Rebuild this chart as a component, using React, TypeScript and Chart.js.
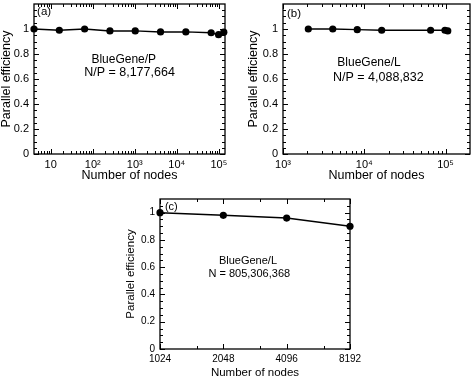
import React, { useEffect, useRef } from "react";
import { Chart, registerables } from "chart.js";

Chart.register(...registerables);
Chart.defaults.color = "#000";

const FONT = "'Liberation Sans', Arial, Helvetica, sans-serif";

// ---- Data ----
const nodesA = [4, 16, 64, 256, 1024, 4096, 16384, 65536, 98304, 131072];
const effA = [1.0, 0.99, 1.0, 0.985, 0.985, 0.977, 0.977, 0.97, 0.955, 0.975];

const nodesB = [2048, 4096, 8192, 16384, 65536, 98304, 106496];
const effB = [1.0, 1.0, 0.995, 0.99, 0.99, 0.99, 0.985];

const nodesC = [1024, 2048, 4096, 8192];
const effC = [1.0, 0.98, 0.96, 0.9];

const yMajorTicks = [0, 0.2, 0.4, 0.6, 0.8, 1];
const xTicksA = [10, 100, 1000, 10000, 100000];
const xLabelsA = ["10", "10²", "10³", "10⁴", "10⁵"];
const xTicksB = [1000, 10000, 100000];
const xLabelsB = ["10³", "10⁴", "10⁵"];
const xTicksC = [1024, 2048, 4096, 8192];
const xLabelsC = ["1024", "2048", "4096", "8192"];
const xMinorC = [1536, 3072, 6144];

function logMinor(min: number, max: number): number[] {
  const out: number[] = [];
  for (let d = Math.floor(Math.log10(min)); d <= Math.ceil(Math.log10(max)); d++) {
    for (let k = 2; k <= 9; k++) {
      const v = k * Math.pow(10, d);
      if (v > min && v < max) out.push(v);
    }
  }
  return out;
}

function yMinor(max: number): number[] {
  const out: number[] = [];
  for (let i = 1; i * 0.05 < max - 1e-9; i++) {
    const v = Math.round(i * 5) / 100;
    if (Math.abs(v * 5 - Math.round(v * 5)) > 1e-9) out.push(v);
  }
  return out;
}

type Note = { text: string; fx: number; fy: number; size: number };

const framePlugin = {
  id: "frame",
  beforeDatasetsDraw(chart: any, _args: any, opts: any) {
    const { ctx, chartArea: a, scales } = chart;
    const x = scales.x;
    const y = scales.y;
    ctx.save();
    ctx.strokeStyle = "#000";
    ctx.lineWidth = 1.3;
    ctx.strokeRect(a.left, a.top, a.right - a.left, a.bottom - a.top);
    ctx.lineWidth = 1;
    ctx.beginPath();
    const tx = (v: number, len: number) => {
      const p = Math.round(x.getPixelForValue(v)) + 0.5;
      ctx.moveTo(p, a.bottom);
      ctx.lineTo(p, a.bottom - len);
      ctx.moveTo(p, a.top);
      ctx.lineTo(p, a.top + len);
    };
    const ty = (v: number, len: number) => {
      const p = Math.round(y.getPixelForValue(v)) + 0.5;
      ctx.moveTo(a.left, p);
      ctx.lineTo(a.left + len, p);
      ctx.moveTo(a.right, p);
      ctx.lineTo(a.right - len, p);
    };
    opts.xMajor.forEach((v: number) => tx(v, 5));
    opts.xMinor.forEach((v: number) => tx(v, 3));
    opts.yMajor.forEach((v: number) => ty(v, 5));
    opts.yMinor.forEach((v: number) => ty(v, 3));
    ctx.stroke();
    ctx.restore();
  },
  afterDraw(chart: any, _args: any, opts: any) {
    const { ctx, chartArea: a } = chart;
    const w = a.right - a.left;
    const h = a.bottom - a.top;
    ctx.save();
    ctx.fillStyle = "#000";
    ctx.textBaseline = "alphabetic";
    ctx.font = `${opts.labelSize}px ${FONT}`;
    ctx.textAlign = "left";
    ctx.fillText(opts.label, a.left + opts.labelPos[0] * w, a.top + opts.labelPos[1] * h);
    ctx.textAlign = "center";
    opts.notes.forEach((n: Note) => {
      ctx.font = `${n.size}px ${FONT}`;
      ctx.fillText(n.text, a.left + n.fx * w, a.top + n.fy * h);
    });
    ctx.restore();
  },
};

type Spec = {
  left: number;
  top: number;
  width: number;
  height: number;
  pad: { left: number; top: number; right: number; bottom: number };
  yAxisWidth: number;
  xAxisHeight: number;
  nodes: number[];
  eff: number[];
  xMin: number;
  xMax: number;
  yMax: number;
  xTicks: number[];
  xLabels: string[];
  xMinor: number[];
  tickSize: number;
  titleSize: number;
  titlePadBottom: number;
  label: string;
  labelPos: [number, number];
  labelSize: number;
  notes: Note[];
};

function Panel({ s }: { s: Spec }) {
  const ref = useRef<HTMLCanvasElement>(null);
  useEffect(() => {
    if (!ref.current) return;
    const chart = new Chart(ref.current, {
      type: "line",
      data: {
        datasets: [
          {
            data: s.nodes.map((n, i) => ({ x: n, y: s.eff[i] })),
            borderColor: "#000",
            borderWidth: 1.5,
            backgroundColor: "#000",
            pointRadius: 3.6,
            pointBackgroundColor: "#000",
            pointBorderWidth: 0,
            tension: 0,
            clip: false as any,
          },
        ],
      },
      options: {
        animation: false,
        responsive: false,
        maintainAspectRatio: false,
        devicePixelRatio: 1,
        layout: { padding: s.pad },
        plugins: {
          legend: { display: false },
          tooltip: { enabled: false },
          frame: {
            xMajor: s.xTicks,
            xMinor: s.xMinor,
            yMajor: yMajorTicks,
            yMinor: yMinor(s.yMax),
            label: s.label,
            labelPos: s.labelPos,
            labelSize: s.labelSize,
            notes: s.notes,
          },
        } as any,
        scales: {
          x: {
            type: "logarithmic",
            min: s.xMin,
            max: s.xMax,
            grid: { display: false, drawTicks: false },
            border: { display: false },
            afterBuildTicks: (sc: any) => {
              sc.ticks = s.xTicks.map((v) => ({ value: v }));
            },
            afterFit: (sc: any) => {
              sc.height = s.xAxisHeight;
              sc.paddingLeft = 0;
              sc.paddingRight = 0;
              sc.paddingTop = 0;
              sc.paddingBottom = 0;
            },
            ticks: {
              autoSkip: false,
              maxRotation: 0,
              padding: 4,
              color: "#000",
              font: { family: FONT, size: s.tickSize },
              callback: (_v: any, i: number) => s.xLabels[i],
            },
            title: {
              display: true,
              text: "Number of nodes",
              color: "#000",
              font: { family: FONT, size: s.titleSize, lineHeight: 1 },
              padding: { top: 0, bottom: s.titlePadBottom },
            },
          },
          y: {
            type: "linear",
            min: 0,
            max: s.yMax,
            grid: { display: false, drawTicks: false },
            border: { display: false },
            afterBuildTicks: (sc: any) => {
              sc.ticks = yMajorTicks.map((v) => ({ value: v }));
            },
            afterFit: (sc: any) => {
              sc.width = s.yAxisWidth;
              sc.paddingLeft = 0;
              sc.paddingRight = 0;
              sc.paddingTop = 0;
              sc.paddingBottom = 0;
            },
            ticks: {
              padding: 5,
              color: "#000",
              font: { family: FONT, size: s.tickSize },
              callback: (v: any) => String(v),
            },
            title: {
              display: true,
              text: "Parallel efficiency",
              color: "#000",
              font: { family: FONT, size: s.titleSize, lineHeight: 1 },
              padding: { top: 0, bottom: 0 },
            },
          },
        },
      },
      plugins: [framePlugin as any],
    });
    return () => chart.destroy();
  }, [s]);
  return (
    <canvas
      ref={ref}
      width={s.width}
      height={s.height}
      style={{ position: "absolute", left: s.left, top: s.top, width: s.width, height: s.height }}
    />
  );
}

const specA: Spec = {
  left: 0,
  top: 0,
  width: 237,
  height: 192,
  pad: { left: 0, top: 3, right: 12, bottom: 0 },
  yAxisWidth: 34,
  xAxisHeight: 38,
  nodes: nodesA,
  eff: effA,
  xMin: 4,
  xMax: 140000,
  yMax: 1.2,
  xTicks: xTicksA,
  xLabels: xLabelsA,
  xMinor: logMinor(4, 140000),
  tickSize: 11,
  titleSize: 12.5,
  titlePadBottom: 10,
  label: "(a)",
  labelPos: [0.016, 0.075],
  labelSize: 11.5,
  notes: [
    { text: "BlueGene/P", fx: 0.47, fy: 0.39, size: 12 },
    { text: "N/P = 8,177,664", fx: 0.5, fy: 0.477, size: 12.5 },
  ],
};

const specB: Spec = {
  left: 237,
  top: 0,
  width: 237,
  height: 192,
  pad: { left: 10, top: 3, right: 2, bottom: 0 },
  yAxisWidth: 36,
  xAxisHeight: 38,
  nodes: nodesB,
  eff: effB,
  xMin: 1000,
  xMax: 200000,
  yMax: 1.2,
  xTicks: xTicksB,
  xLabels: xLabelsB,
  xMinor: logMinor(1000, 200000),
  tickSize: 11,
  titleSize: 12.5,
  titlePadBottom: 10,
  label: "(b)",
  labelPos: [0.021, 0.085],
  labelSize: 11.5,
  notes: [
    { text: "BlueGene/L", fx: 0.46, fy: 0.41, size: 12 },
    { text: "N/P = 4,088,832", fx: 0.51, fy: 0.51, size: 12.5 },
  ],
};

const specC: Spec = {
  left: 100,
  top: 180,
  width: 270,
  height: 200,
  pad: { left: 25, top: 19, right: 20, bottom: 0 },
  yAxisWidth: 35,
  xAxisHeight: 31,
  nodes: nodesC,
  eff: effC,
  xMin: 1024,
  xMax: 8192,
  yMax: 1.1,
  xTicks: xTicksC,
  xLabels: xLabelsC,
  xMinor: xMinorC,
  tickSize: 10,
  titleSize: 11.5,
  titlePadBottom: 1,
  label: "(c)",
  labelPos: [0.026, 0.073],
  labelSize: 11,
  notes: [
    { text: "BlueGene/L", fx: 0.463, fy: 0.433, size: 11 },
    { text: "N = 805,306,368", fx: 0.47, fy: 0.517, size: 11 },
  ],
};

export default function App() {
  return (
    <div
      style={{
        position: "fixed",
        left: 0,
        top: 0,
        width: 474,
        height: 378,
        overflow: "hidden",
        background: "#fff",
      }}
    >
      <Panel s={specA} />
      <Panel s={specB} />
      <Panel s={specC} />
    </div>
  );
}
